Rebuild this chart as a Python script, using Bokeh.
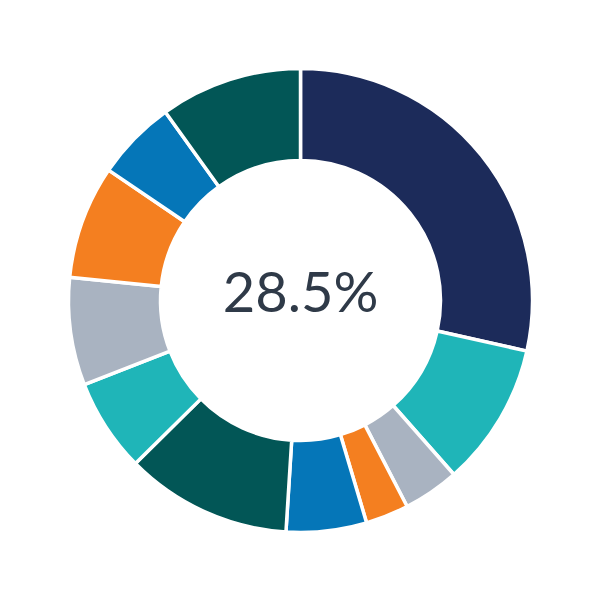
import numpy as np
from bokeh.plotting import figure
from bokeh.models import ColumnDataSource, Range1d
from bokeh.core.properties import value
from bokeh.embed import file_html
from bokeh.resources import INLINE

# Data (percent shares, clockwise from 12 o'clock)
segments = ["A", "B", "C", "D", "E", "F", "G", "H", "I", "J", "K"]
shares = [28.5, 10.0, 3.9, 3.0, 5.6, 11.6, 6.5, 7.5, 7.9, 5.6, 9.9]
colors = ["#1c2b5a", "#1fb5b8", "#a9b3c1", "#f47f20", "#0576b8", "#025656",
          "#1fb5b8", "#a9b3c1", "#f47f20", "#0576b8", "#025656"]
center_label = "28.5%"

W = H = 584
cx, cy = 300, 284
r_outer, r_inner = 232, 140

vals = np.array(shares, dtype=float)
frac = vals / vals.sum()
cum_end = np.cumsum(frac)
cum_start = cum_end - frac
start = np.pi / 2 - cum_start * 2 * np.pi
end = np.pi / 2 - cum_end * 2 * np.pi

src = ColumnDataSource(dict(seg=segments, start=start, end=end, color=colors))

p = figure(width=W, height=H, output_backend="svg", toolbar_location=None,
           x_range=Range1d(0, W), y_range=Range1d(0, H), min_border=0)
p.axis.visible = False
p.grid.visible = False
p.outline_line_color = None
p.background_fill_color = "white"

p.annular_wedge(x=cx, y=cy, inner_radius=r_inner, outer_radius=r_outer,
                start_angle="start", end_angle="end", direction="clock",
                fill_color="color", line_color="white", line_width=3.5, source=src)

p.text(x=[cx], y=[cy + 10], text=[center_label], text_align="center",
       text_baseline="middle", text_font=value("Lato"), text_font_size="56px",
       text_color="#2f3a48")

open("out.html", "w").write(file_html(p, INLINE))
